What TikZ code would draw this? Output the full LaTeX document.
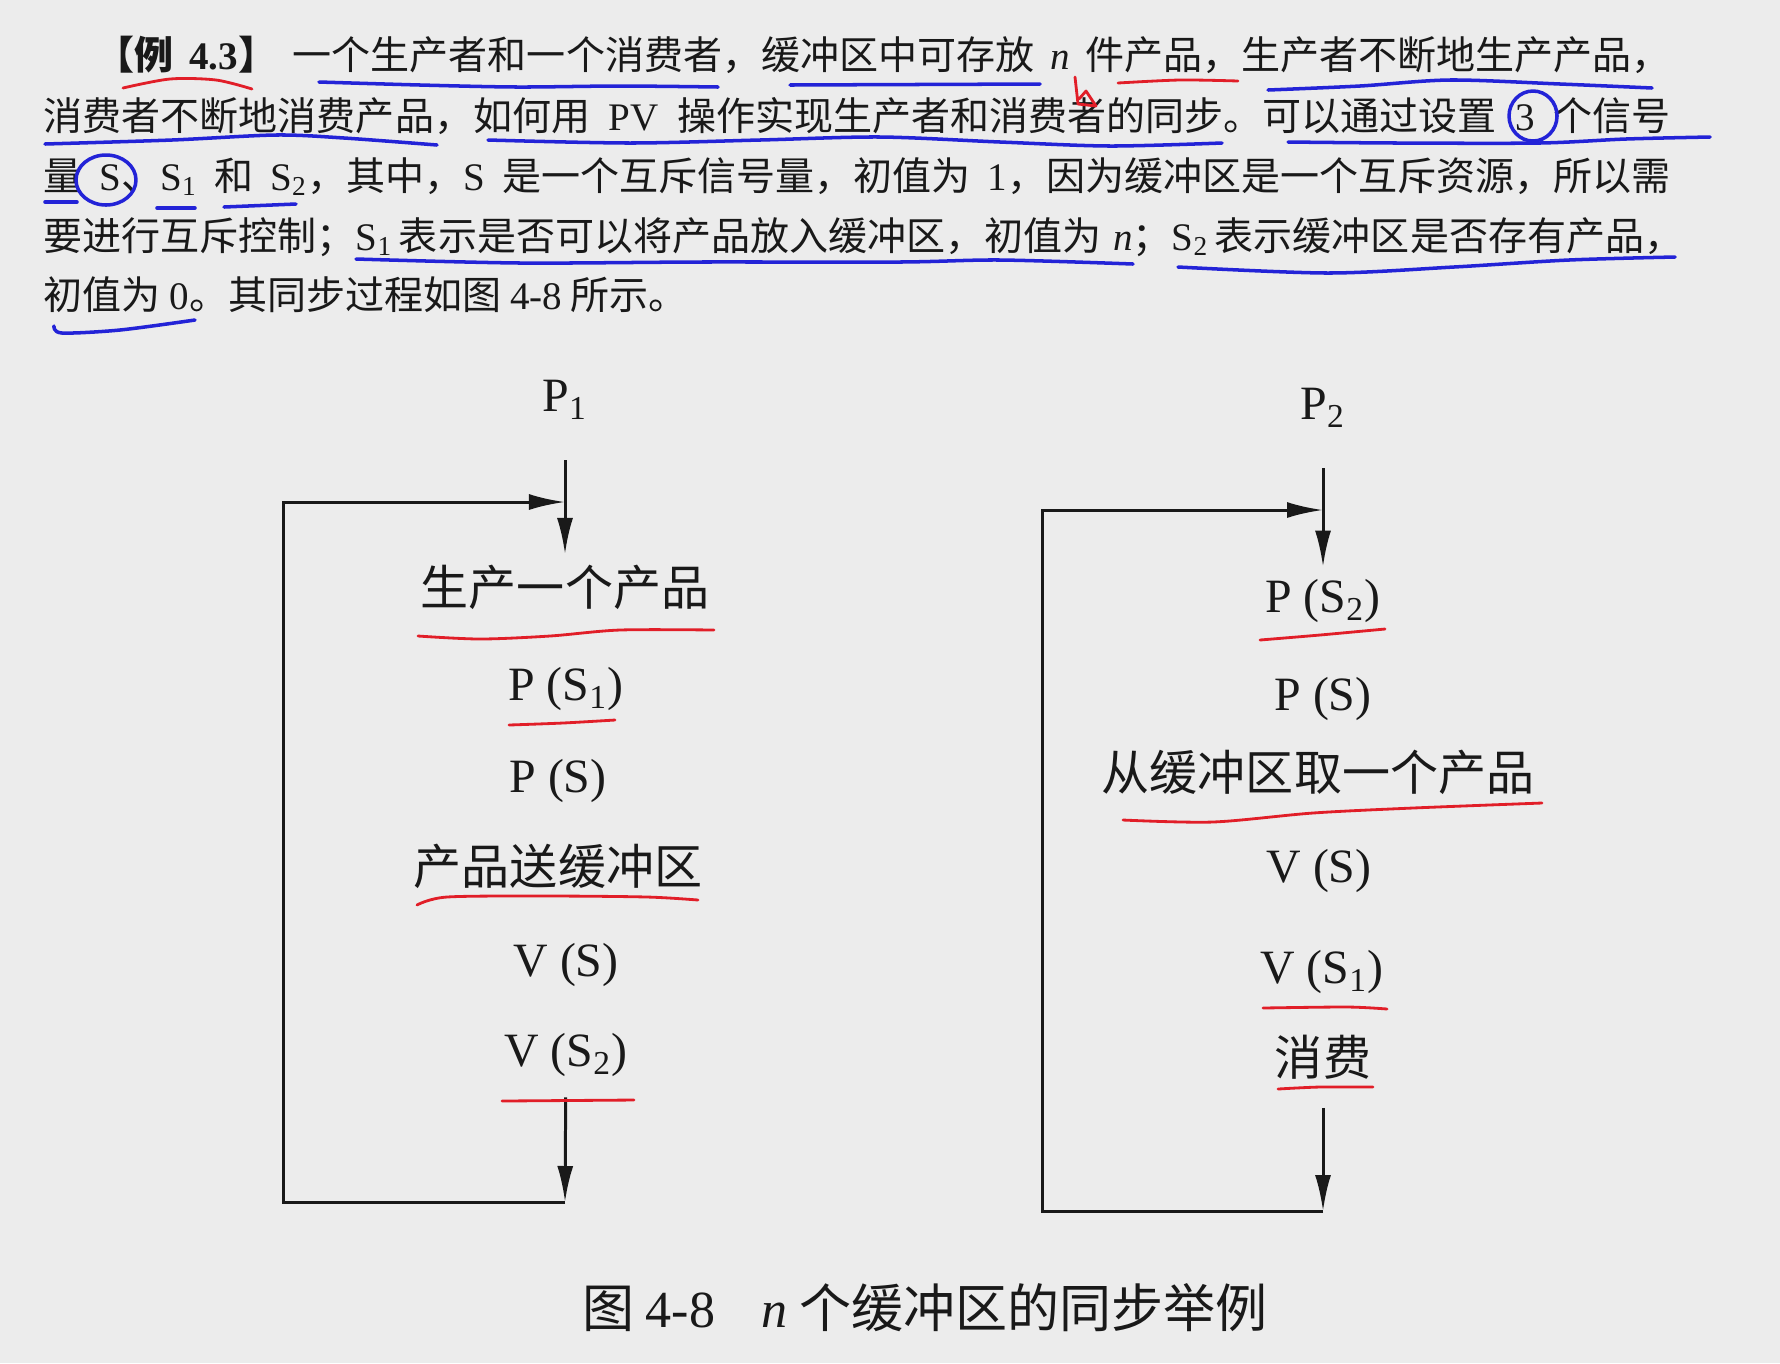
\documentclass[tikz,border=0pt]{standalone}
\usepackage{fontspec}
\setmainfont{Noto Sans CJK SC}
\newfontfamily\tms{Liberation Serif}
\usetikzlibrary{arrows.meta}
\XeTeXlinebreaklocale "zh"
\XeTeXlinebreakskip=0pt plus 2pt
\definecolor{paper}{RGB}{236,236,236}
\definecolor{ink}{RGB}{25,25,25}
\definecolor{penred}{RGB}{225,30,40}
\definecolor{penblue}{RGB}{35,35,215}
\newcommand\tnr[1]{{\tms #1}}
\newcommand\vn{{\tms\itshape n}}
\newcommand\Sone{{\tms S\textsubscript{1}}}
\newcommand\Stwo{{\tms S\textsubscript{2}}}
\newcommand\jline[2]{\hbox to #1{\spaceskip=0.3em plus 0.6em\relax #2}}
\begin{document}
\begin{tikzpicture}[x=0.01cm, y=-0.01cm, >={Latex[length=3.6mm,width=1.6mm]},
  cjk/.style={inner sep=0pt, text=ink, font=\fontsize{13.66pt}{16pt}\selectfont},
  lat/.style={inner sep=0pt, text=ink, font=\tms\fontsize{13.6pt}{16pt}\selectfont},
  para/.style={anchor=base west, inner sep=0pt, text=ink, font=\fontsize{11.1pt}{13pt}\selectfont},
  flow/.style={draw=ink, line width=0.85pt},
  redpen/.style={draw=penred, line width=0.8pt, line cap=round, line join=round},
  bluepen/.style={draw=penblue, line width=1pt, line cap=round, line join=round}]
  \fill[paper] (0,0) rectangle (1780,1363);
  \useasboundingbox (0,0) rectangle (1780,1363);
  % text of the example
  \node[para] (l1) at (95,69) {\jline{15.74cm}{{\bfseries 【例\tnr{ 4.3}】}\ 一个生产者和一个消费者，缓冲区中可存放 \vn\ 件产品，生产者不断地生产产品，}};
  \node[para] (l2) at (43,130) {\jline{16.26cm}{消费者不断地消费产品，如何用 \tnr{PV} 操作实现生产者和消费者的同步。可以通过设置 \tnr{3} 个信号}};
  \node[para] (l3) at (43,190) {\jline{16.26cm}{量 \tnr{S}、\Sone\ 和 \Stwo，其中，\tnr{S} 是一个互斥信号量，初值为 \tnr{1}，因为缓冲区是一个互斥资源，所以需}};
  \node[para] (l4) at (43,250) {\jline{16.26cm}{要进行互斥控制；\Sone\hspace{0.15em}表示是否可以将产品放入缓冲区，初值为 \vn；\Stwo\hspace{0.15em}表示缓冲区是否存有产品，}};
  \node[para] (l5) at (43,309) {初值为 \tnr{0}。其同步过程如图 \tnr{4-8} 所示。};
  % producer
  \node[lat] (p1) at (565,400) {P\textsubscript{1}};
  \node[cjk] (prod) at (565,587) {生产一个产品};
  \node[lat] (ps1) at (566,689) {P (S\textsubscript{1})};
  \node[lat] (psa) at (558,781) {P (S)};
  \node[cjk] (send) at (558,866) {产品送缓冲区};
  \node[lat] (vsa) at (566,965) {V (S)};
  \node[lat] (vs2) at (566,1055) {V (S\textsubscript{2})};
  \coordinate (j1) at (565,502);
  \coordinate (lb) at (565,1202);
  \coordinate (lc) at (283,1202);
  \draw[flow, ->, shorten <=0.4cm, shorten >=0.1cm] (p1) -- (prod);
  \draw[flow, ->, shorten <=0.2cm] (vs2) -- (lb);
  \draw[flow, ->] (lb) -- (lc) |- (j1);
  % consumer
  \node[lat] (p2) at (1323,408) {P\textsubscript{2}};
  \node[lat] (ps2) at (1323,601) {P (S\textsubscript{2})};
  \node[lat] (psb) at (1323,699) {P (S)};
  \node[cjk] (take) at (1318,772) {从缓冲区取一个产品};
  \node[lat] (vsb) at (1319,871) {V (S)};
  \node[lat] (vs1) at (1322,972) {V (S\textsubscript{1})};
  \node[cjk] (use) at (1323,1057) {消费};
  \coordinate (j2) at (1323,510);
  \coordinate (rb) at (1323,1211);
  \coordinate (rc) at (1042,1211);
  \draw[flow, ->, shorten <=0.4cm, shorten >=0.12cm] (p2) -- (ps2);
  \draw[flow, ->, shorten <=0.28cm] (use) -- (rb);
  \draw[flow, ->] (rb) -- (rc) |- (j2);
  % caption
  \node[cjk, font=\fontsize{14.8pt}{17pt}\selectfont] (cap) at (925,1308) {图 \tnr{4-8}\hspace{0.9em}\vn\ 个缓冲区的同步举例};
  % red pen
  \draw[redpen] plot[smooth] coordinates {(123,88) (170,79) (216,80) (252,89)};
  \draw[redpen] plot[smooth] coordinates {(1118,83) (1180,80) (1238,81)};
  \draw[redpen] (1075,77) -- (1078,104) -- (1096,106) -- (1086,91) -- (1079,99);
  \draw[redpen] plot[smooth] coordinates {(418,636) (480,639) (550,636) (620,630) (714,630)};
  \draw[redpen] plot[smooth] coordinates {(509,725) (563,723) (615,720)};
  \draw[redpen] plot[smooth] coordinates {(417,905) (447,897) (547,896) (647,897) (698,900)};
  \draw[redpen] (502,1101) -- (634,1100);
  \draw[redpen] plot[smooth] coordinates {(1260,640) (1320,635) (1385,629)};
  \draw[redpen] plot[smooth] coordinates {(1123,820) (1213,822) (1313,813) (1413,808) (1542,803)};
  \draw[redpen] plot[smooth] coordinates {(1263,1008) (1347,1007) (1387,1009)};
  \draw[redpen] plot[smooth] coordinates {(1278,1089) (1320,1087) (1373,1087)};
  % blue pen
  \draw[bluepen] plot[smooth] coordinates {(319,82) (420,85) (517,87) (620,86) (718,87)};
  \draw[bluepen] (790,85) -- (1040,84);
  \draw[bluepen] plot[smooth] coordinates {(1268,90) (1360,86) (1450,80) (1560,84) (1652,88)};
  \draw[bluepen] plot[smooth] coordinates {(45,144) (172,140) (276,135) (344,138) (437,145)};
  \draw[bluepen] plot[smooth] coordinates {(488,140) (630,143) (760,140) (880,137) (1000,142) (1110,146) (1222,143)};
  \draw[bluepen] plot[smooth] coordinates {(1288,142) (1397,143) (1540,143) (1626,139) (1710,137)};
  \draw[bluepen] (1533,116) ellipse [x radius=24, y radius=25];
  \draw[bluepen] (45,202) -- (77,202);
  \draw[bluepen] (106,180) ellipse [x radius=30, y radius=25];
  \draw[bluepen] (157,208) -- (195,208);
  \draw[bluepen] (224,207) -- (296,204);
  \draw[bluepen] plot[smooth] coordinates {(356,259) (520,263) (700,262) (900,262) (1000,260) (1133,264)};
  \draw[bluepen] plot[smooth] coordinates {(1178,267) (1328,273) (1454,267) (1569,260) (1675,257)};
  \draw[bluepen] plot[smooth] coordinates {(54,326) (62,333) (120,330) (195,320)};
\end{tikzpicture}
\end{document}
